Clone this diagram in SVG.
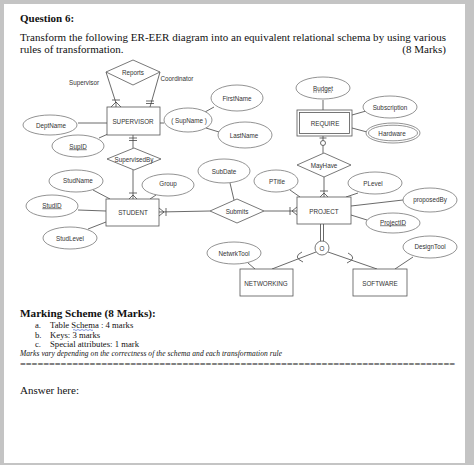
<svg xmlns="http://www.w3.org/2000/svg" width="474" height="465" viewBox="0 0 474 465">
<style>
.page{fill:#ffffff}
.ent{fill:#ffffff;stroke:#555;stroke-width:0.8}
.att{fill:#ffffff;stroke:#777;stroke-width:0.8}
.rel{fill:#ffffff;stroke:#555;stroke-width:0.8}
.ln{fill:none;stroke:#444;stroke-width:0.8}
.d{font-family:"Liberation Sans",Arial,sans-serif;font-size:6.3px;fill:#333;text-anchor:middle;dominant-baseline:central}
.t{font-family:"Liberation Serif","Times New Roman",serif;fill:#111}
.u{text-decoration:underline}
</style>
<rect x="0" y="0" width="474" height="465" fill="#c4c4c4"/>
<rect class="page" x="4" y="4" width="461" height="459"/>

<text class="t" x="20" y="22" font-size="11" font-weight="bold">Question 6:</text>
<text class="t" x="20" y="41" font-size="11" textLength="426" lengthAdjust="spacing">Transform the following ER-EER diagram into an equivalent relational schema by using various</text>
<text class="t" x="20" y="53" font-size="11">rules of transformation.</text>
<text class="t" x="446" y="53" font-size="11" text-anchor="end">(8 Marks)</text>

<g id="connectors">
<!-- Reports - SUPERVISOR -->
<path class="ln" d="M106,72 L116,103 M111,107 L116,102 L121,107 M116,102 L116,107 M112,100 L120,100"/>
<path class="ln" d="M160,72 L150,107 M146,101 L154,101 M146,103.5 L154,103.5"/>
<!-- SUPERVISOR attrs -->
<path class="ln" d="M78,123 L107,123"/>
<path class="ln" d="M99,138 L108,134"/>
<path class="ln" d="M160,123 L164,123"/>
<path class="ln" d="M205,112 L214,107"/>
<path class="ln" d="M206,128 L219,132"/>
<!-- SUPERVISOR - SupervisedBy - STUDENT -->
<path class="ln" d="M133,135 L133,148 M129,138 L137,138 M129,140.5 L137,140.5"/>
<path class="ln" d="M133,170 L133,199 M129,193 L137,193 M129,199 L133,195 L137,199"/>
<!-- STUDENT attrs -->
<path class="ln" d="M93,190 L110,199"/>
<path class="ln" d="M156,195 L150,199"/>
<path class="ln" d="M78,210 L106,211"/>
<path class="ln" d="M88,229 L106,222"/>
<!-- STUDENT - Submits - PROJECT -->
<path class="ln" d="M159,212 L210,211 M159,208 L164,212 L159,216 M166,208 L166,216"/>
<path class="ln" d="M264,211 L297,211 M290,207 L290,215 M297,207 L292,211 L297,215"/>
<path class="ln" d="M230,183 L234,200"/>
<!-- REQUIRE -->
<path class="ln" d="M323,100 L323,110"/>
<path class="ln" d="M352,115 L366,111"/>
<path class="ln" d="M352,128 L367,132"/>
<path class="ln" d="M323,136 L323,140.5 M323,145.5 L323,153 M319.5,138 L326.5,138"/>
<circle class="ln" cx="323" cy="143" r="2.5"/>
<!-- MayHave - PROJECT -->
<path class="ln" d="M324,177 L324,197 M320,191 L328,191 M320,197 L324,193 L328,197"/>
<!-- PROJECT attrs -->
<path class="ln" d="M290,190 L300,197"/>
<path class="ln" d="M358,193 L346,197"/>
<path class="ln" d="M351,206 L403,200"/>
<path class="ln" d="M351,215 L367,220"/>
<!-- specialization -->
<path class="ln" d="M320.5,224 L320.5,241 M323.5,224 L323.5,241"/>
<path class="ln" d="M316,252 L272,269"/>
<path class="ln" d="M328,252 L377,269"/>
<path class="ln" d="M302,252 Q292,257 303,262"/>
<path class="ln" d="M348,253 Q358,258 347,263"/>
<path class="ln" d="M248,263 L255,269"/>
<path class="ln" d="M413,257 L395,269"/>
</g>

<g id="reports"><polygon class="rel" points="106,72 133,60 160,72 133,85"/><text class="d" x="133" y="72">Reports</text></g>
<g id="role-supervisor"><text class="d" x="84" y="82">Supervisor</text></g>
<g id="role-coordinator"><text class="d" x="177" y="78">Coordinator</text></g>
<g id="supervisor"><rect class="ent" x="107" y="107" width="53" height="28"/><text class="d" x="133" y="121">SUPERVISOR</text></g>
<g id="deptname"><ellipse class="att" cx="50" cy="125" rx="27" ry="10"/><text class="d" x="51" y="125">DeptName</text></g>
<g id="supid"><ellipse class="att" cx="78" cy="146" rx="26" ry="11"/><text class="d u" x="78" y="146">SupID</text></g>
<g id="supname"><ellipse class="att" cx="188" cy="120" rx="24" ry="12"/><text class="d" x="189" y="120">( SupName )</text></g>
<g id="firstname"><ellipse class="att" cx="237" cy="98" rx="26" ry="13"/><text class="d" x="237" y="98">FirstName</text></g>
<g id="lastname"><ellipse class="att" cx="245" cy="135" rx="27" ry="13"/><text class="d" x="244" y="135">LastName</text></g>
<g id="budget"><ellipse class="att" cx="323" cy="88" rx="27" ry="11"/><text class="d" x="323" y="88">Budget</text><path d="M313,92 L333,92" stroke="#333" stroke-width="0.6" stroke-dasharray="1.5,1"/></g>
<g id="require"><rect class="ent" x="297" y="110" width="55" height="26"/><rect class="ent" x="299.5" y="112.5" width="50" height="21"/><text class="d" x="325" y="123">REQUIRE</text></g>
<g id="subscription"><ellipse class="att" cx="390" cy="107" rx="27" ry="11"/><text class="d" x="390" y="107">Subscription</text></g>
<g id="hardware"><ellipse class="att" cx="393" cy="133" rx="27" ry="10"/><ellipse class="att" cx="393" cy="133" rx="24.5" ry="7.8"/><text class="d" x="392" y="133">Hardware</text></g>
<g id="supervisedby"><polygon class="rel" points="107,159 134,148 161,159 134,170"/><text class="d" x="134" y="159">SupervisedBy</text></g>
<g id="mayhave"><polygon class="rel" points="297,165 324,153 351,165 324,177"/><text class="d" x="324" y="165">MayHave</text></g>
<g id="studname"><ellipse class="att" cx="76" cy="181" rx="27" ry="11"/><text class="d" x="78" y="180">StudName</text></g>
<g id="group"><ellipse class="att" cx="168" cy="185" rx="26" ry="11"/><text class="d" x="168" y="183">Group</text></g>
<g id="subdate"><ellipse class="att" cx="224" cy="171" rx="26" ry="12"/><text class="d" x="224" y="171">SubDate</text></g>
<g id="ptitle"><ellipse class="att" cx="276" cy="181" rx="22" ry="11"/><text class="d" x="277" y="181">PTitle</text></g>
<g id="plevel"><ellipse class="att" cx="375" cy="183" rx="27" ry="11"/><text class="d" x="373" y="183">PLevel</text></g>
<g id="proposedby"><ellipse class="att" cx="430" cy="200" rx="27" ry="12"/><text class="d" x="430" y="199">proposedBy</text></g>
<g id="studid"><ellipse class="att" cx="52" cy="206" rx="26" ry="11"/><text class="d u" x="52" y="205">StudID</text></g>
<g id="student"><rect class="ent" x="106" y="199" width="53" height="27"/><text class="d" x="133" y="212">STUDENT</text></g>
<g id="submits"><polygon class="rel" points="210,211 237,199 264,211 237,223"/><text class="d" x="237" y="211">Submits</text></g>
<g id="project"><rect class="ent" x="297" y="197" width="54" height="27"/><text class="d" x="324" y="211">PROJECT</text></g>
<g id="projectid"><ellipse class="att" cx="393" cy="223" rx="27" ry="10"/><text class="d u" x="393" y="222">ProjectID</text></g>
<g id="studlevel"><ellipse class="att" cx="70" cy="238" rx="27" ry="11"/><text class="d" x="70" y="238">StudLevel</text></g>
<g id="overlap"><circle class="ent" cx="322" cy="248" r="7"/><text class="d" x="322" y="248" font-size="8">O</text></g>
<g id="netwrktool"><ellipse class="att" cx="234" cy="253" rx="27" ry="11"/><text class="d" x="234" y="253">NetwrkTool</text></g>
<g id="designtool"><ellipse class="att" cx="430" cy="247" rx="27" ry="11"/><text class="d" x="430" y="246">DesignTool</text></g>
<g id="networking"><rect class="ent" x="240" y="269" width="53" height="27"/><text class="d" x="266" y="283">NETWORKING</text></g>
<g id="software"><rect class="ent" x="353" y="269" width="54" height="27"/><text class="d" x="380" y="283">SOFTWARE</text></g>

<text class="t" x="20" y="317" font-size="11.2" font-weight="bold">Marking Scheme (8 Marks):</text>
<text class="t" x="35" y="328" font-size="8.7">a.</text>
<text class="t" x="50" y="328" font-size="8.7">Table Schema : 4 marks</text>
<path d="M73,330 q1,-1 2,0 t2,0 t2,0 t2,0 t2,0 t2,0 t2,0 t2,0 t2,0 t2,0" fill="none" stroke="#3355cc" stroke-width="0.6"/>
<text class="t" x="35" y="337.5" font-size="8.7">b.</text>
<text class="t" x="50" y="337.5" font-size="8.7">Keys: 3 marks</text>
<text class="t" x="35" y="347" font-size="8.7">c.</text>
<text class="t" x="50" y="347" font-size="8.7">Special attributes: 1 mark</text>
<text class="t" x="20" y="356" font-size="7.5" font-style="italic" textLength="262" lengthAdjust="spacing">Marks vary depending on the correctness of the schema and each transformation rule</text>
<text class="t" x="20" y="367" font-size="9" textLength="435" lengthAdjust="spacingAndGlyphs">===========================================================================</text>
<text class="t" x="20" y="394" font-size="11">Answer here:</text>
</svg>
